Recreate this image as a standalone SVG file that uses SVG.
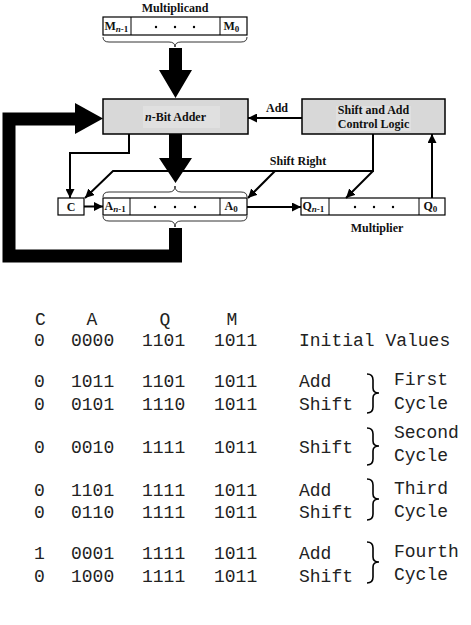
<svg xmlns="http://www.w3.org/2000/svg" width="471" height="625" viewBox="0 0 471 625">
<defs>
<marker id="ahs" viewBox="0 0 10 10" refX="10" refY="5" markerWidth="9" markerHeight="9" markerUnits="userSpaceOnUse" orient="auto">
<path d="M0,0 L10,5 L0,10 z" fill="#000"/>
</marker>
<style>
.lbl{font-family:"Liberation Serif","Times New Roman",serif;font-weight:bold;font-size:12px;fill:#111}
.sub{font-size:9px}
.reg{fill:#fff;stroke:#000;stroke-width:1.2}
.box{fill:#d8d8d8;stroke:#000;stroke-width:1.5}
.inner{fill:#e0e0e0;stroke:none}
.ln{fill:none;stroke:#000;stroke-width:2}
.br{fill:none;stroke:#000;stroke-width:0.8}
.tb{font-family:"Liberation Mono","Courier New",monospace;font-size:18px;fill:#222}
.tbr{fill:none;stroke:#000;stroke-width:1.6}
</style>
</defs>

<g id="multiplicand">
<text class="lbl" x="175" y="12" text-anchor="middle">Multiplicand</text>
<rect class="reg" x="103" y="17" width="144" height="18"/>
<line x1="131" y1="17" x2="131" y2="35" stroke="#000" stroke-width="1"/>
<line x1="220" y1="17" x2="220" y2="35" stroke="#000" stroke-width="1"/>
<text class="lbl" x="104.5" y="30">M<tspan class="sub" dy="2"><tspan font-style="italic">n</tspan>-1</tspan></text>
<text class="lbl" x="223.5" y="30">M<tspan class="sub" dy="2">0</tspan></text>
<circle cx="156" cy="27" r="1.2"/><circle cx="175" cy="27" r="1.2"/><circle cx="194" cy="27" r="1.2"/>
<path class="br" d="M103,37 q0,5 6,5 L169,42 q6,0 6,5 q0,-5 6,-5 L241,42 q6,0 6,-5"/>
</g>

<g id="adder">
<rect class="box" x="103" y="99" width="145" height="35"/>
<rect class="inner" x="143" y="106" width="77" height="22"/>
<text class="lbl" x="175.5" y="121" text-anchor="middle"><tspan font-style="italic">n</tspan>-Bit Adder</text>
</g>

<g id="control">
<rect class="box" x="302" y="99" width="143" height="35"/>
<rect class="inner" x="336" y="106" width="75" height="25"/>
<text class="lbl" x="373.5" y="114" text-anchor="middle">Shift and Add</text>
<text class="lbl" x="373.5" y="128" text-anchor="middle">Control Logic</text>
</g>

<g id="creg">
<rect class="reg" x="58" y="198" width="26" height="17"/>
<text class="lbl" x="71" y="211" text-anchor="middle">C</text>
</g>

<g id="areg">
<path class="br" d="M103,197 q0,-5 6,-5 L169,192 q6,0 6,-6 q0,6 6,6 L241,192 q6,0 6,5"/>
<rect class="reg" x="103" y="198" width="144" height="17"/>
<line x1="130" y1="198" x2="130" y2="215" stroke="#000" stroke-width="1"/>
<line x1="220" y1="198" x2="220" y2="215" stroke="#000" stroke-width="1"/>
<text class="lbl" x="104.5" y="210">A<tspan class="sub" dy="2"><tspan font-style="italic">n</tspan>-1</tspan></text>
<text class="lbl" x="224.5" y="210">A<tspan class="sub" dy="2">0</tspan></text>
<circle cx="155" cy="207" r="1.2"/><circle cx="175" cy="207" r="1.2"/><circle cx="195" cy="207" r="1.2"/>
<path class="br" d="M103,216 q0,5 6,5 L169,221 q6,0 6,6 q0,-6 6,-6 L241,221 q6,0 6,-5"/>
</g>

<g id="qreg">
<rect class="reg" x="301" y="198" width="144" height="17"/>
<line x1="329" y1="198" x2="329" y2="215" stroke="#000" stroke-width="1"/>
<line x1="419" y1="198" x2="419" y2="215" stroke="#000" stroke-width="1"/>
<text class="lbl" x="302.5" y="210">Q<tspan class="sub" dy="2"><tspan font-style="italic">n</tspan>-1</tspan></text>
<text class="lbl" x="423.5" y="210">Q<tspan class="sub" dy="2">0</tspan></text>
<circle cx="355" cy="207" r="1.2"/><circle cx="374" cy="207" r="1.2"/><circle cx="393" cy="207" r="1.2"/>
<text class="lbl" x="377" y="232" text-anchor="middle">Multiplier</text>
</g>

<g id="connectors">
<polygon points="169,48 182,48 182,70 192,70 175.5,98 159,70 169,70" fill="#000"/>
<polygon points="169,134 182,134 182,158 192,158 175.5,183 159,158 169,158" fill="#000"/>
<polyline points="175.5,228 175.5,256 9,256 9,119 76,119" fill="none" stroke="#000" stroke-width="13" stroke-linejoin="miter"/>
<polygon points="75,103 103,118.5 75,134" fill="#000"/>
<line class="ln" x1="302" y1="118" x2="248" y2="118" marker-end="url(#ahs)"/>
<text class="lbl" x="277" y="112" text-anchor="middle">Add</text>
<polyline class="ln" points="129,134 129,153 70,153 70,198" marker-end="url(#ahs)"/>
<polyline class="ln" points="373,134 373,171 113,171 85,198" marker-end="url(#ahs)"/>
<line class="ln" x1="275" y1="171" x2="248" y2="198" marker-end="url(#ahs)"/>
<line class="ln" x1="373" y1="171" x2="346" y2="198" marker-end="url(#ahs)"/>
<text class="lbl" x="298" y="165" text-anchor="middle">Shift Right</text>
<line class="ln" x1="84" y1="206.5" x2="103" y2="206.5" marker-end="url(#ahs)"/>
<line class="ln" x1="247" y1="207" x2="301" y2="207" marker-end="url(#ahs)"/>
<line class="ln" x1="432" y1="198" x2="432" y2="134" marker-end="url(#ahs)"/>
</g>

<g id="table">
<text class="tb" x="35" y="325">C</text>
<text class="tb" x="86.5" y="325">A</text>
<text class="tb" x="159.5" y="325">Q</text>
<text class="tb" x="226.5" y="325">M</text>

<text class="tb" x="34" y="346">0</text><text class="tb" x="71" y="346">0000</text><text class="tb" x="142" y="346">1101</text><text class="tb" x="214" y="346">1011</text><text class="tb" x="299" y="346">Initial Values</text>

<text class="tb" x="34" y="387">0</text><text class="tb" x="71" y="387">1011</text><text class="tb" x="142" y="387">1101</text><text class="tb" x="214" y="387">1011</text><text class="tb" x="299" y="387">Add</text>
<text class="tb" x="34" y="410">0</text><text class="tb" x="71" y="410">0101</text><text class="tb" x="142" y="410">1110</text><text class="tb" x="214" y="410">1011</text><text class="tb" x="299" y="410">Shift</text>

<text class="tb" x="34" y="453">0</text><text class="tb" x="71" y="453">0010</text><text class="tb" x="142" y="453">1111</text><text class="tb" x="214" y="453">1011</text><text class="tb" x="299" y="453">Shift</text>

<text class="tb" x="34" y="496">0</text><text class="tb" x="71" y="496">1101</text><text class="tb" x="142" y="496">1111</text><text class="tb" x="214" y="496">1011</text><text class="tb" x="299" y="496">Add</text>
<text class="tb" x="34" y="518">0</text><text class="tb" x="71" y="518">0110</text><text class="tb" x="142" y="518">1111</text><text class="tb" x="214" y="518">1011</text><text class="tb" x="299" y="518">Shift</text>

<text class="tb" x="34" y="559">1</text><text class="tb" x="71" y="559">0001</text><text class="tb" x="142" y="559">1111</text><text class="tb" x="214" y="559">1011</text><text class="tb" x="299" y="559">Add</text>
<text class="tb" x="34" y="582">0</text><text class="tb" x="71" y="582">1000</text><text class="tb" x="142" y="582">1111</text><text class="tb" x="214" y="582">1011</text><text class="tb" x="299" y="582">Shift</text>

<path class="tbr" d="M367,374 q6,0 6,6 L373,388 q0,5 6,5 q-6,0 -6,5 L373,407 q0,6 -6,6"/>
<path class="tbr" d="M367,428 q6,0 6,6 L373,441 q0,5 6,5 q-6,0 -6,5 L373,459 q0,6 -6,6"/>
<path class="tbr" d="M367,479 q6,0 6,6 L373,494 q0,5 6,5 q-6,0 -6,5 L373,514 q0,6 -6,6"/>
<path class="tbr" d="M367,542 q6,0 6,6 L373,557 q0,5 6,5 q-6,0 -6,5 L373,577 q0,6 -6,6"/>

<text class="tb" x="394" y="385">First</text><text class="tb" x="394" y="409">Cycle</text>
<text class="tb" x="394" y="438">Second</text><text class="tb" x="394" y="461">Cycle</text>
<text class="tb" x="394" y="494">Third</text><text class="tb" x="394" y="517">Cycle</text>
<text class="tb" x="394" y="557">Fourth</text><text class="tb" x="394" y="580">Cycle</text>
</g>
</svg>
